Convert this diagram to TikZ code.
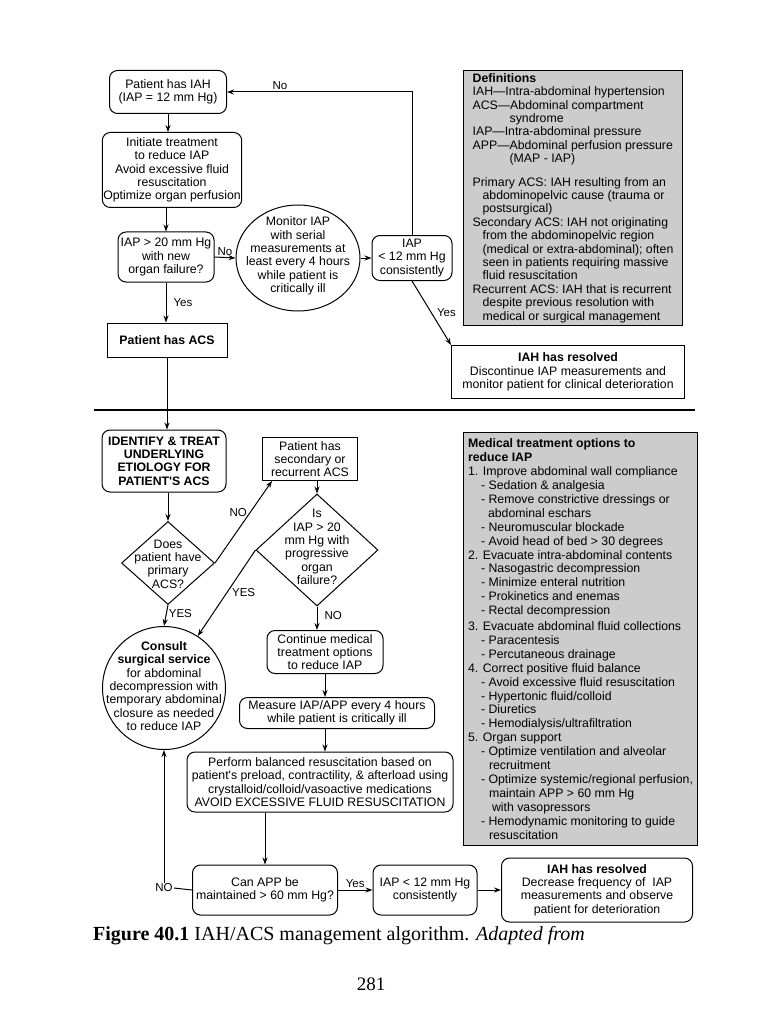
\documentclass[tikz,border=0pt]{standalone}
\usepackage{fontspec}
\setmainfont{Liberation Serif}
\newfontfamily\diagfont{Liberation Sans}
\usetikzlibrary{shapes.geometric,arrows.meta}
\definecolor{panelgray}{gray}{0.80}
\newcommand{\dsize}{\diagfont\fontsize{12.3pt}{13.4pt}\selectfont}
\newcommand{\lsize}{\diagfont\fontsize{11.5pt}{12pt}\selectfont}

\begin{document}
\begin{tikzpicture}[x=1pt,y=-1pt,
	every node/.style={font=\dsize, align=center, inner sep=1pt},
	sqbox/.style={draw, line width=1pt, inner sep=1pt},
	rndbox/.style={sqbox, rounded corners=8pt},
	panel/.style={draw, line width=1pt, fill=panelgray, align=left, anchor=north west},
	dec/.style={draw, diamond, line width=1pt, inner sep=0pt},
	lbl/.style={font=\lsize},
	arr/.style={line width=1pt, -{Stealth[length=7pt,width=5pt]}},
	conn/.style={line width=1pt}]

	\useasboundingbox[fill=white] (0,0) rectangle (768,1024);

	% upper part
	\node[rndbox, minimum width=117pt, minimum height=43pt] (iah) at (168,92) {Patient has IAH\\(IAP = 12 mm Hg)};
	\node[rndbox, minimum width=139pt, minimum height=75pt] (init) at (172,170) {Initiate treatment\\to reduce IAP\\Avoid excessive fluid\\resuscitation\\Optimize organ perfusion};
	\node[rndbox, minimum width=96pt, minimum height=50pt] (gtw) at (166,257) {IAP > 20 mm Hg\\with new\\organ failure?};
	\node[draw, ellipse, line width=1pt, minimum width=124pt, minimum height=106pt] (moni) at (298,258) {};
	\node (monitxt) at (298,256) {Monitor IAP\\with serial\\measurements at\\least every 4 hours\\while patient is\\critically ill};
	\node[rndbox, minimum width=80pt, minimum height=45pt] (lta) at (412,258) {IAP\\< 12 mm Hg\\consistently};
	\node[sqbox, minimum width=120pt, minimum height=34pt, font=\dsize\bfseries] (acs) at (167,340) {Patient has ACS};
	\node[sqbox, minimum width=233pt, minimum height=53pt] (resa) at (568,372) {\textbf{IAH has resolved}\\Discontinue IAP measurements and\\monitor patient for clinical deterioration};

	\node[panel, minimum width=219pt, minimum height=255pt] (defs) at (463,70) {\textbf{Definitions}\\
		IAH—Intra-abdominal hypertension\\
		ACS—Abdominal compartment\\
		\hspace*{37pt}syndrome\\
		IAP—Intra-abdominal pressure\\
		APP—Abdominal perfusion pressure\\
		\hspace*{37pt}(MAP - IAP)\\[10pt]
		Primary ACS: IAH resulting from an\\
		\hspace*{10pt}abdominopelvic cause (trauma or\\
		\hspace*{10pt}postsurgical)\\
		Secondary ACS: IAH not originating\\
		\hspace*{10pt}from the abdominopelvic region\\
		\hspace*{10pt}(medical or extra-abdominal); often\\
		\hspace*{10pt}seen in patients requiring massive\\
		\hspace*{10pt}fluid resuscitation\\
		Recurrent ACS: IAH that is recurrent\\
		\hspace*{10pt}despite previous resolution with\\
		\hspace*{10pt}medical or surgical management};

	\draw[arr] (iah.south) -- (iah.south |- init.north);
	\draw[arr] (init.south -| gtw.north) -- (gtw.north);
	\draw[arr] (gtw.east) -- (moni.west) node[lbl, midway, above] (noa) {No};
	\draw[arr] (moni.east) -- (lta.west);
	\draw[arr] (lta.north) |- (iah.east) node[lbl, pos=0.857, above=1pt] (nob) {No};
	\draw[arr] (lta.south) -- (resa.north west) node[lbl, midway, right=4pt] (yesa) {Yes};
	\draw[arr] (gtw.south) -- (gtw.south |- acs.north) node[lbl, midway, right=6pt] (yesb) {Yes};

	% divider
	\draw[line width=1.2pt] (94,410) -- (695,410);

	% lower part
	\node[rndbox, minimum width=124pt, minimum height=62pt, font=\dsize\bfseries] (etio) at (164,461) {IDENTIFY \& TREAT\\UNDERLYING\\ETIOLOGY FOR\\PATIENT'S ACS};
	\draw[arr] (acs.south) -- (acs.south |- etio.north);

	\node[dec, minimum width=93pt, minimum height=83pt] (prim) at (168,563) {};
	\node (primtxt) at (168,564) {Does\\patient have\\primary\\ACS?};
	\node[sqbox, minimum width=95pt, minimum height=43pt] (secr) at (310,459) {Patient has\\secondary or\\recurrent ACS};
	\node[dec, minimum width=122pt, minimum height=112pt] (prog) at (317,550) {};
	\node (progtxt) at (317,547) {Is\\IAP > 20\\mm Hg with\\progressive\\organ\\failure?};
	\node[rndbox, minimum width=116pt, minimum height=43pt] (cont) at (325,652) {Continue medical\\treatment options\\to reduce IAP};
	\node[draw, circle, line width=1pt, minimum size=123pt, inner sep=0pt] (surg) at (164,688) {};
	\node (surgtxt) at (164,686) {\textbf{Consult}\\\textbf{surgical service}\\for abdominal\\decompression with\\temporary abdominal\\closure as needed\\to reduce IAP};
	\node[rndbox, minimum width=195pt, minimum height=31pt] (meas) at (337,713) {Measure IAP/APP every 4 hours\\while patient is critically ill};
	\node[rndbox, minimum width=266pt, minimum height=60pt] (bal) at (320,782) {Perform balanced resuscitation based on\\patient's preload, contractility, \& afterload using\\crystalloid/colloid/vasoactive medications\\AVOID EXCESSIVE FLUID RESUSCITATION};
	\node[rndbox, minimum width=145pt, minimum height=50pt] (app) at (265,890) {Can APP be\\maintained > 60 mm Hg?};
	\node[rndbox, minimum width=104pt, minimum height=50pt] (ltb) at (425,890) {IAP < 12 mm Hg\\consistently};
	\node[rndbox, minimum width=191pt, minimum height=64pt] (resb) at (597,890) {\textbf{IAH has resolved}\\Decrease frequency of\ \ IAP\\measurements and observe\\patient for deterioration};
	\node[lbl] (noc) at (164,888) {NO};

	\node[panel, minimum width=234pt, minimum height=413pt, font=\diagfont\fontsize{12.3pt}{13.9pt}\selectfont] (med) at (463,432) {\textbf{Medical treatment options to}\\
		\textbf{reduce IAP}\\
		1. Improve abdominal wall compliance\\
		\hspace*{13pt}- Sedation \& analgesia\\
		\hspace*{13pt}- Remove constrictive dressings or\\
		\hspace*{20pt}abdominal eschars\\
		\hspace*{13pt}- Neuromuscular blockade\\
		\hspace*{13pt}- Avoid head of bed > 30 degrees\\
		2. Evacuate intra-abdominal contents\\
		\hspace*{13pt}- Nasogastric decompression\\
		\hspace*{13pt}- Minimize enteral nutrition\\
		\hspace*{13pt}- Prokinetics and enemas\\
		\hspace*{13pt}- Rectal decompression\\[2pt]
		3. Evacuate abdominal fluid collections\\
		\hspace*{13pt}- Paracentesis\\
		\hspace*{13pt}- Percutaneous drainage\\
		4. Correct positive fluid balance\\
		\hspace*{13pt}- Avoid excessive fluid resuscitation\\
		\hspace*{13pt}- Hypertonic fluid/colloid\\
		\hspace*{13pt}- Diuretics\\
		\hspace*{13pt}- Hemodialysis/ultrafiltration\\
		5. Organ support\\
		\hspace*{13pt}- Optimize ventilation and alveolar\\
		\hspace*{21pt}recruitment\\
		\hspace*{13pt}- Optimize systemic/regional perfusion,\\
		\hspace*{21pt}maintain APP > 60 mm Hg\\
		\hspace*{24pt}with vasopressors\\
		\hspace*{13pt}- Hemodynamic monitoring to guide\\
		\hspace*{21pt}resuscitation};

	\draw[arr] (etio.south -| prim.north) -- (prim.north);
	\draw[arr] (prim.east) -- ([xshift=10pt]secr.south west) node[lbl, pos=0.62, left=2pt] (noe) {NO};
	\draw[arr] (secr.south -| prog.north) -- (prog.north);
	\draw[arr] (prog.west) -- (surg.57) node[lbl, pos=0.5, right=4pt] (yesc) {YES};
	\draw[arr] (prim.south) -- (surg.north) node[lbl, pos=0.4, right=1pt] (yesd) {YES};
	\draw[arr] (prog.south) -- (prog.south |- cont.north) node[lbl, pos=0.4, right=6pt] (nof) {NO};
	\draw[arr] (cont.south) -- (cont.south |- meas.north);
	\draw[arr] (meas.south -| cont.south) -- (cont.south |- bal.north);
	\draw[arr] (bal.south -| app.north) -- (app.north);
	\draw[conn] (app.west) -- (noc.east);
	\draw[arr] (noc.north) -- (surg.south);
	\draw[arr] (app.east) -- (ltb.west) node[lbl, midway, above=1pt] (yese) {Yes};
	\draw[arr] (ltb.east) -- (resb.west);

	% caption
	\node[anchor=base west, font=\rmfamily\fontsize{20pt}{24pt}\selectfont, inner sep=0pt] (cap) at (93,940) {\textbf{Figure 40.1} IAH/ACS management algorithm. \textit{Adapted from}};
	\node[anchor=base, font=\rmfamily\fontsize{19pt}{22pt}\selectfont, inner sep=0pt] (pnum) at (371,990) {281};
\end{tikzpicture}
\end{document}
